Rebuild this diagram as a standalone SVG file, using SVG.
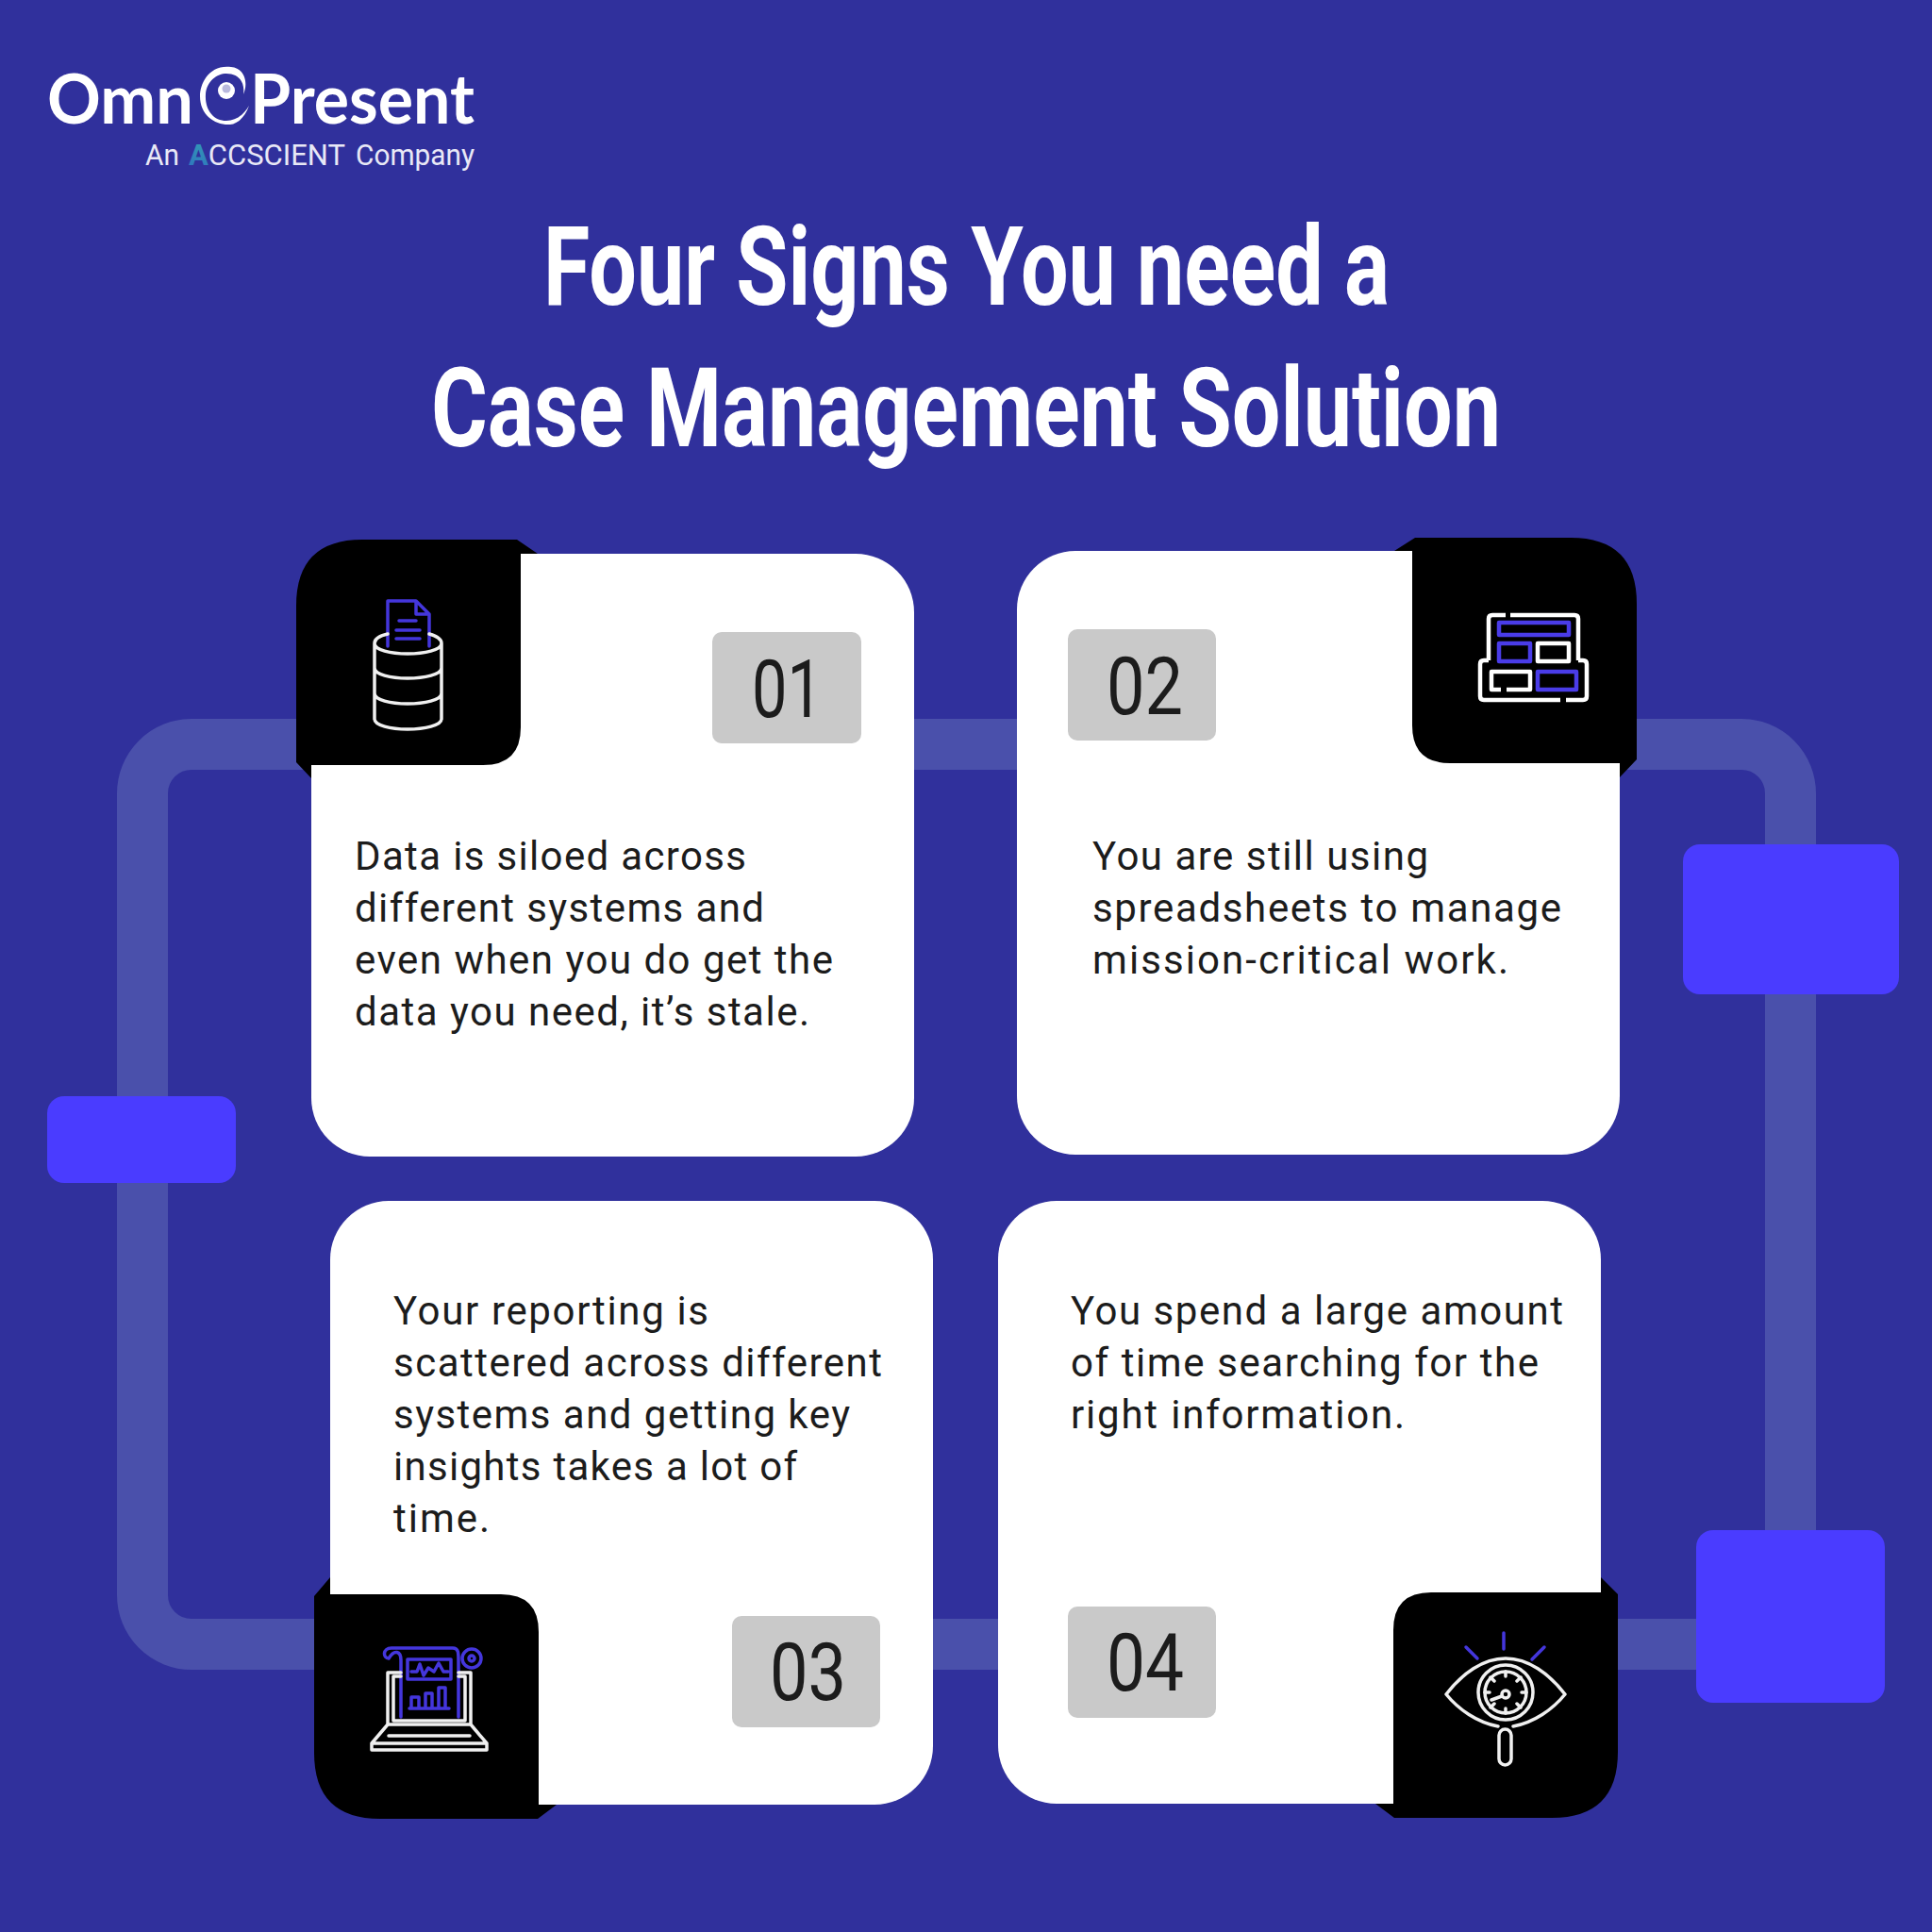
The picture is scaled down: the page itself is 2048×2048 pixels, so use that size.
<svg xmlns="http://www.w3.org/2000/svg" width="2048" height="2048" viewBox="0 0 2048 2048">
<style>
.card{fill:#fff}
.blk{fill:#000}
.num{fill:#c9c9c9}
.numt{font-family:"Roboto",sans-serif;font-weight:400;font-size:86px;fill:#1c1c1c}
.body{font-family:"Roboto",sans-serif;font-weight:400;font-size:42px;fill:#1c1c1c}
.title{font-family:"Roboto",sans-serif;font-weight:700;font-size:116px;fill:#fff}
.w{fill:none;stroke:#f0f0f0;stroke-width:3.500;stroke-linecap:round;stroke-linejoin:round}
.wb{fill:none;stroke:#fff;stroke-width:4.500;stroke-linejoin:round}
.p{fill:none;stroke:#4436dc;stroke-width:3.500;stroke-linecap:round;stroke-linejoin:round}
.pb{fill:none;stroke:#4a3ce8;stroke-width:4.500;stroke-linejoin:round}
.tab{fill:#4a3cff}
.logo{font-family:"Lato","Open Sans",sans-serif;font-weight:700;font-size:72px;fill:#fff}
.sub{font-family:"Roboto",sans-serif;font-size:32px;fill:#e8e8f6}
</style>
<defs>
<linearGradient id="acc" x1="0" y1="1" x2="1" y2="0"><stop offset="0" stop-color="#2f6fc0"/><stop offset="1" stop-color="#35c8a8"/></linearGradient>
</defs>
<rect width="2048" height="2048" fill="#30309c"/>

<g id="connectors">
<rect x="151" y="789" width="1747" height="954" rx="52" fill="none" stroke="#4a50ab" stroke-width="54"/>
</g>
<g id="tabs">
<rect class="tab" x="1784" y="895" width="229" height="159" rx="18"/>
<rect class="tab" x="1798" y="1622" width="200" height="183" rx="18"/>
<rect class="tab" x="50" y="1162" width="200" height="92" rx="18"/>
</g>

<g id="logo">
<text class="logo" x="50" y="131" textLength="155" lengthAdjust="spacingAndGlyphs">Omn</text>
<path d="M245 71C222 68 212 88 212 102C212 122 228 133 244 132C252 131 260 124 264 112C258 122 250 128 240 128C226 128 217 116 218 100C219 86 230 78 240 78C252 78 260 86 258 100C264 86 258 72 245 71Z" fill="#fff"/>
<circle cx="240" cy="96" r="9" fill="#fff"/><circle cx="240" cy="94" r="4.500" fill="#b9b9dd"/>
<text class="logo" x="265" y="131" textLength="238" lengthAdjust="spacingAndGlyphs">Present</text>
<text class="sub" x="154" y="175" textLength="36" lengthAdjust="spacingAndGlyphs">An</text>
<text class="sub" x="200" y="175" textLength="166" lengthAdjust="spacingAndGlyphs"><tspan fill="url(#acc)" font-weight="700">A</tspan>CCSCIENT</text>
<text class="sub" x="377" y="175" textLength="126" lengthAdjust="spacingAndGlyphs">Company</text>
</g>

<g id="title">
<text class="title" x="576" y="323" textLength="897" lengthAdjust="spacingAndGlyphs">Four Signs You need a</text>
<text class="title" x="457" y="473" textLength="1134" lengthAdjust="spacingAndGlyphs">Case Management Solution</text>
</g>

<g id="card-01">
<rect class="card" x="330" y="587" width="639" height="639" rx="62"/>
<path class="blk" d="M384 572H548L570 587H552V771Q552 811 512 811H330V825L314 808V642Q314 572 384 572Z"/>
<path class="p" d="M411 685V637H441L455 651V685M441 637V651H455M423 658H441M420 668H445M420 677H445"/>
<path class="w" d="M411 672C402 674 397 677 397 682C397 689 414 693 432 693C450 693 468 689 468 682C468 677 462 674 455 672M397 682V762C397 769 414 773 432 773C450 773 468 769 468 762V682M397 708C397 715 414 719 432 719C450 719 468 715 468 708M397 735C397 742 414 746 432 746C450 746 468 742 468 735"/>
<rect class="num" x="755" y="670" width="158" height="118" rx="10"/>
<text class="numt" x="797" y="760" textLength="75" lengthAdjust="spacingAndGlyphs">01</text>
<text class="body" x="376" y="922" textLength="415">Data is siloed across</text>
<text class="body" x="376" y="977" textLength="434">different systems and</text>
<text class="body" x="376" y="1032" textLength="507">even when you do get the</text>
<text class="body" x="376" y="1087" textLength="482">data you need, it’s stale.</text>
</g>

<g id="card-02">
<rect class="card" x="1078" y="584" width="639" height="640" rx="62"/>
<path class="blk" d="M1665 570H1500L1478 584H1497V769Q1497 809 1537 809H1717V824L1735 805V640Q1735 570 1665 570Z"/>
<path class="wb" d="M1578 700V656Q1578 652 1582 652H1596M1601 652H1669Q1673 652 1673 656V700M1578 700H1573Q1569 700 1569 704V738Q1569 742 1573 742H1654M1660 742H1678Q1682 742 1682 738V704Q1682 700 1678 700H1673"/>
<rect class="pb" x="1589" y="660" width="74" height="13"/>
<rect class="pb" x="1589" y="682" width="33" height="19"/>
<rect class="wb" x="1630" y="682" width="33" height="19"/>
<path class="wb" d="M1591 731H1581V712H1622V731H1597"/>
<rect class="pb" x="1630" y="712" width="41" height="19"/>
<rect class="num" x="1132" y="667" width="157" height="118" rx="10"/>
<text class="numt" x="1173" y="757" textLength="81" lengthAdjust="spacingAndGlyphs">02</text>
<text class="body" x="1158" y="922" textLength="356">You are still using</text>
<text class="body" x="1158" y="977" textLength="497">spreadsheets to manage</text>
<text class="body" x="1158" y="1032" textLength="441">mission-critical work.</text>
</g>

<g id="card-03">
<rect class="card" x="350" y="1273" width="639" height="640" rx="62"/>
<path class="blk" d="M350 1690H531Q571 1690 571 1730V1913H590L570 1928H403Q333 1928 333 1858V1692L350 1672Z"/>
<path class="p" d="M425 1820V1760C425 1750 418 1748 412 1758C406 1758 405 1747 415 1747H480C486 1747 486 1752 486 1760V1820M432 1759H478V1780H432ZM436 1772L442 1772L445 1764L449 1776L454 1768L460 1772L465 1763L470 1772H475M436 1811V1799H444V1811M451 1811V1795H458V1811M465 1811V1789H472V1811M434 1811H476"/>
<circle class="p" cx="500" cy="1758" r="10"/><circle class="p" cx="500" cy="1758" r="3"/>
<path class="w" d="M425 1773H411V1828H499V1773H486M425 1777H417V1824H493V1777H486M411 1828L394 1848V1855H516V1848L499 1828M394 1848H516M412 1840H498"/>
<rect class="num" x="776" y="1713" width="157" height="118" rx="10"/>
<text class="numt" x="816" y="1802" textLength="81" lengthAdjust="spacingAndGlyphs">03</text>
<text class="body" x="417" y="1404" textLength="334">Your reporting is</text>
<text class="body" x="417" y="1459" textLength="518">scattered across different</text>
<text class="body" x="417" y="1514" textLength="484">systems and getting key</text>
<text class="body" x="417" y="1569" textLength="428">insights takes a lot of</text>
<text class="body" x="417" y="1624" textLength="102">time.</text>
</g>

<g id="card-04">
<rect class="card" x="1058" y="1273" width="639" height="639" rx="62"/>
<path class="blk" d="M1517 1688H1697V1672L1715 1690V1857Q1715 1927 1645 1927H1478L1458 1912H1477V1728Q1477 1688 1517 1688Z"/>
<path class="p" d="M1594 1731V1748M1554 1746L1566 1758M1624 1759L1637 1746"/>
<path class="w" d="M1588 1830C1566 1826 1546 1812 1533 1796C1550 1774 1572 1758 1596 1758C1620 1758 1642 1774 1659 1796C1646 1812 1626 1826 1604 1830"/>
<circle class="w" cx="1596" cy="1794" r="29"/><circle class="w" cx="1596" cy="1794" r="22"/>
<circle class="w" cx="1596" cy="1796" r="4"/>
<path class="w" d="M1592 1798L1581 1802M1596 1772V1777M1596 1811V1816M1574 1794H1579M1613 1794H1618M1580 1778L1584 1782M1612 1778L1608 1782M1580 1810L1584 1806M1612 1810L1608 1806"/>
<rect class="w" x="1589" y="1833" width="13" height="38" rx="6.500"/>
<rect class="num" x="1132" y="1703" width="157" height="118" rx="10"/>
<text class="numt" x="1173" y="1792" textLength="82" lengthAdjust="spacingAndGlyphs">04</text>
<text class="body" x="1135" y="1404" textLength="522">You spend a large amount</text>
<text class="body" x="1135" y="1459" textLength="496">of time searching for the</text>
<text class="body" x="1135" y="1514" textLength="354">right information.</text>
</g>
</svg>
